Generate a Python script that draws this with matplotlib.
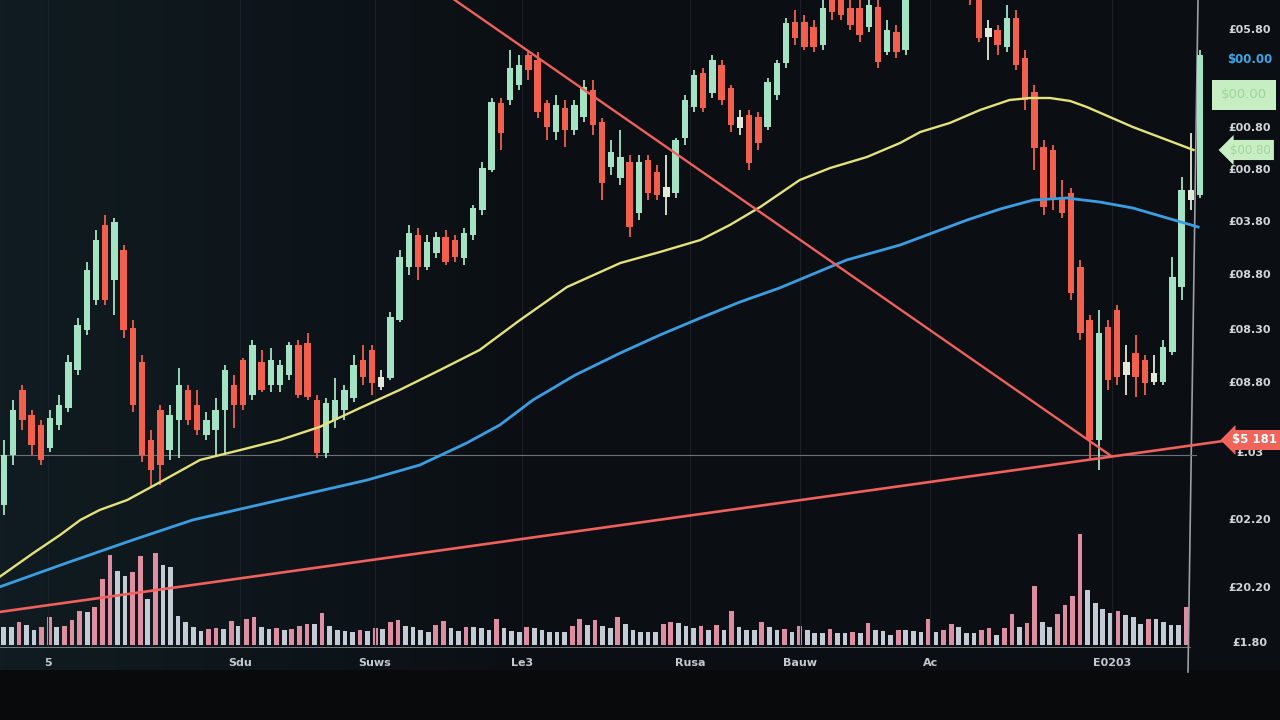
import numpy as np
import matplotlib
matplotlib.use('agg')
from matplotlib import pyplot as plt
from matplotlib.lines import Line2D

# candles (price units), one entry per session
opens = [59.5, 64.5, 71.0, 68.5, 67.5, 65.2, 67.5, 69.2, 73.0, 77.0,
         80.0, 87.5, 82.0, 85.0, 77.2, 73.8, 66.0, 69.0, 65.0, 68.0,
         71.0, 69.5, 66.5, 67.0, 69.0, 71.5, 74.0, 70.5, 73.8, 71.5,
         71.5, 72.5, 75.5, 75.7, 70.0, 64.7, 68.0, 69.0, 70.2, 74.0,
         75.0, 71.3, 72.2, 78.0, 83.3, 86.5, 83.3, 84.7, 86.3, 86.0,
         84.2, 86.5, 89.0, 93.0, 99.7, 100.0, 101.5, 104.5, 104.0, 99.7,
         96.8, 99.2, 97.0, 98.3, 101.0, 97.8, 93.3, 92.2, 93.8, 88.7,
         94.0, 92.8, 90.3, 90.7, 96.2, 99.3, 102.7, 100.7, 103.5, 101.2,
         97.2, 98.5, 98.3, 97.3, 100.5, 103.7, 107.8, 107.8, 107.3, 105.5,
         110.5, 110.0, 109.2, 109.2, 107.3, 109.3, 104.8, 106.8, 105.0, 111.0,
         114.0, 112.5, 115.5, 113.5, 116.0, 113.0, 111.0, 107.2, 107.0, 105.3,
         108.2, 104.2, 100.8, 95.3, 95.0, 90.3, 90.7, 83.3, 78.0, 66.0,
         77.3, 79.0, 72.5, 74.7, 74.0, 71.8, 71.8, 74.8, 81.3, 90.0,
         90.5]
closes = [64.5, 69.0, 68.0, 65.5, 64.0, 68.2, 69.5, 73.8, 77.5, 83.0,
          86.0, 80.0, 87.8, 77.0, 69.5, 64.5, 63.0, 63.5, 68.5, 71.5,
          68.0, 67.0, 68.0, 69.0, 73.0, 69.5, 69.5, 75.5, 71.0, 74.0,
          73.5, 75.5, 70.5, 70.3, 64.7, 69.7, 70.0, 71.0, 73.5, 72.3,
          71.7, 72.3, 78.3, 84.3, 86.7, 83.3, 85.8, 86.3, 83.8, 84.3,
          86.7, 89.2, 93.2, 99.8, 96.7, 103.2, 103.5, 103.0, 98.8, 97.3,
          99.5, 97.0, 99.5, 101.3, 97.5, 91.7, 94.8, 94.3, 87.3, 93.8,
          90.7, 90.5, 91.3, 96.0, 100.0, 102.5, 99.2, 104.0, 100.0, 97.5,
          98.3, 93.7, 95.7, 101.8, 103.7, 107.7, 106.2, 105.3, 105.3, 109.2,
          108.8, 108.5, 107.5, 106.5, 109.5, 103.8, 107.0, 104.8, 111.0, 114.0,
          112.0, 115.5, 113.5, 116.0, 113.0, 110.5, 106.2, 106.3, 105.5, 108.2,
          103.5, 100.0, 95.2, 89.3, 90.0, 88.7, 80.7, 76.7, 66.0, 76.7,
          72.0, 72.3, 73.8, 72.3, 71.7, 72.7, 75.3, 82.3, 91.0, 91.0,
          104.5]
highs = [66.0, 70.0, 71.5, 69.0, 68.0, 69.0, 70.5, 74.5, 78.2, 83.8,
         87.0, 88.5, 88.2, 85.5, 78.0, 74.5, 67.0, 69.5, 69.5, 73.2,
         71.5, 71.0, 68.8, 70.2, 73.5, 72.5, 74.2, 76.0, 75.0, 75.2,
         74.0, 75.8, 76.0, 76.7, 70.5, 70.2, 72.2, 71.5, 74.5, 75.5,
         75.5, 73.0, 78.8, 85.0, 87.5, 87.2, 86.5, 86.8, 87.0, 86.5,
         87.2, 89.5, 93.8, 100.2, 100.2, 105.0, 104.5, 105.0, 104.8, 100.0,
         100.5, 100.0, 100.0, 102.0, 102.0, 98.2, 96.0, 97.0, 94.5, 94.5,
         94.5, 93.5, 94.5, 96.2, 100.5, 103.0, 103.2, 104.5, 104.0, 101.5,
         99.0, 99.0, 98.8, 102.2, 104.0, 108.2, 109.0, 108.5, 108.0, 110.0,
         111.5, 111.0, 110.0, 110.0, 110.0, 110.0, 108.0, 107.5, 112.0, 115.0,
         115.5, 116.0, 116.5, 117.0, 117.0, 114.0, 112.0, 108.0, 107.5, 109.5,
         109.0, 105.0, 101.5, 96.0, 95.5, 92.0, 91.2, 84.0, 78.5, 79.0,
         78.0, 79.5, 75.5, 76.5, 74.5, 74.5, 76.0, 84.3, 92.3, 96.7,
         105.0]
lows = [58.5, 63.5, 67.0, 64.5, 63.5, 64.8, 67.0, 68.8, 72.5, 76.5,
        79.5, 79.5, 78.5, 76.2, 68.8, 63.8, 61.2, 61.5, 64.0, 64.2,
        67.5, 66.5, 66.0, 64.5, 64.5, 67.2, 69.0, 70.0, 70.8, 70.8,
        70.8, 72.0, 70.2, 70.0, 64.2, 64.2, 67.2, 68.0, 69.8, 71.5,
        70.5, 71.0, 72.0, 77.8, 82.5, 82.0, 83.0, 84.2, 83.5, 83.8,
        83.5, 86.0, 88.5, 92.8, 95.0, 99.5, 101.0, 102.0, 98.2, 96.0,
        96.0, 95.3, 96.5, 97.8, 96.5, 90.0, 92.5, 91.5, 86.3, 88.0,
        90.0, 90.0, 88.5, 90.2, 95.5, 98.8, 98.8, 100.2, 99.5, 96.8,
        96.5, 93.0, 95.0, 97.0, 100.0, 103.2, 105.5, 105.0, 104.8, 105.0,
        108.0, 108.0, 107.0, 105.8, 106.8, 103.2, 104.5, 104.2, 104.5, 110.5,
        111.0, 112.0, 112.5, 113.0, 112.0, 109.5, 105.8, 104.0, 104.5, 104.8,
        103.0, 99.0, 93.0, 88.5, 89.0, 88.2, 80.0, 76.0, 64.0, 63.0,
        71.0, 71.5, 70.5, 70.3, 70.5, 71.5, 71.5, 74.5, 80.0, 89.0,
        90.2]

# moving averages (session index, price)
ma_slow_x = [-0.5, 3.2, 6.1, 8.3, 10.4, 13.4, 17.0, 21.3, 25.7, 30.0, 34.3, 38.7,
             43.0, 47.4, 51.7, 56.1, 61.2, 67.0, 71.3, 75.7, 78.9, 82.2, 86.5, 89.8,
             93.8, 97.4, 99.6, 102.8, 106.1, 109.3, 111.5, 113.7, 115.9, 117.7, 120.2,
             122.7, 129.3]
ma_slow_y = [52.3, 54.7, 56.5, 58.0, 59.0, 60.0, 61.8, 64.0, 65.0, 66.0, 67.3, 69.2,
             71.0, 73.0, 75.0, 78.0, 81.3, 83.7, 84.8, 86.0, 87.5, 89.3, 92.0, 93.2,
             94.3, 95.7, 96.8, 97.7, 99.0, 100.0, 100.2, 100.2, 99.9, 99.3, 98.3,
             97.3, 95.0]
ma_long_x = [-0.5, 6.8, 14.0, 20.5, 30.0, 39.5, 45.2, 50.3, 53.9, 57.5, 62.1, 67.0,
             71.3, 75.7, 80.0, 84.3, 91.6, 97.4, 104.7, 108.3, 111.9, 115.5, 119.1,
             122.7, 129.8]
ma_long_y = [51.3, 53.7, 56.0, 58.0, 60.0, 62.0, 63.5, 65.7, 67.5, 70.0, 72.5, 74.7,
             76.5, 78.2, 79.8, 81.2, 84.0, 85.5, 88.0, 89.1, 90.0, 90.2, 89.8,
             89.2, 87.3]

# trend lines (start, end) in (session, price)
trend_down = [(49.0, 110.0), (120.2, 64.5)]
trend_up = [(-0.5, 48.8), (133.3, 66.0)]
support = 64.5

# volume bars (thousands)
volume = [18, 18, 23, 20, 15, 18, 28, 18, 19, 25, 34, 33, 38, 66, 90, 74, 69, 73, 89, 46,
          92, 80, 78, 29, 23, 18, 14, 16, 17, 16, 24, 19, 26, 28, 18, 16, 17,
          15, 16, 19, 21, 21, 32, 19, 15, 14, 13, 15, 14, 17, 16, 23, 25, 19, 18, 15, 13,
          20, 24, 17, 14, 18, 18, 17, 15, 26, 17, 14, 13, 18, 17, 15, 13, 13, 13, 19, 26,
          20, 25, 19, 17, 28,
          21, 15, 13, 13, 13, 21, 23, 22, 19, 17, 19, 15, 20, 15, 34, 18, 15, 15, 23, 18,
          15, 16, 13, 19, 15, 12, 12, 16, 12, 12, 13, 12, 22, 15, 14, 10, 15, 15, 14, 13,
          26, 13, 15, 21, 18, 12, 12, 15, 17, 10, 17, 31, 18, 22, 59, 23, 18, 31, 40, 49,
          111, 55, 42, 36, 32, 34, 30, 28, 21, 26, 26, 23, 20, 20, 38]

x_tick_pos = [4.8, 25.7, 40.3, 56.3, 74.6, 86.5, 100.7, 120.4]
x_tick_lab = ['5', 'Sdu', 'Suws', 'Le3', 'Rusa', 'Bauw', 'Ac', 'E0203']

# right-hand price scale labels (price, text)
r_prices = [107.0, 97.2, 93.0, 87.8, 82.5, 77.0, 71.7, 64.7, 58.0, 51.2, 45.7]
r_labels = ['£05.80', '£00.80', '£00.80', '£03.80', '£08.80', '£08.30', '£08.80',
            '£.03', '£02.20', '£20.20', '£1.80']

W, H = 1280, 720
fig = plt.figure(figsize=(12.8, 7.2), dpi=100)
fig.patch.set_facecolor('#0a0c10')

# background gradient
bg = fig.add_axes([0, 0, 1, 1], zorder=-10)
gx = np.linspace(0, 1, 256)
left = np.array([0x10, 0x1c, 0x21]) / 255
mid = np.array([0x0b, 0x0e, 0x13]) / 255
w = np.clip(gx / 0.45, 0, 1)[:, None]
row = left * (1 - w) + mid * w
img = np.repeat(row[None, :, :], 100, axis=0)
img[int(100 * 675 / 720):, :, :] = np.array([0x09, 0x0a, 0x0c]) / 255
bg.imshow(img, aspect='auto', extent=[0, 1, 0, 1], origin='upper')
bg.axis('off')

ybot = 110 - 648 / 10.0
x0 = -0.43
x1 = x0 + W / 9.2

# volume
vax = fig.add_axes([0, (H - 645) / H, 1190 / W, 120 / H], zorder=1)
vax.set_facecolor('none')
vi = np.arange(len(volume))
vcol = ['#f29aae' if i > 0 and volume[i] > volume[i - 1] else '#d4dde6' for i in vi]
vax.bar(vi, volume, width=0.62, color=vcol, alpha=0.92)
vax.set_xlim(-0.5, len(volume) - 0.5)
vax.set_ylim(0, 120)
vax.axis('off')

ax = fig.add_axes([0, (H - 648) / H, 1, 648 / H], zorder=2)
ax.set_facecolor('none')
ax.set_xlim(x0, x1)
ax.set_ylim(ybot, 110)

o = np.array(opens); c = np.array(closes)
hi = np.array(highs); lo = np.array(lows)
xi = np.arange(len(o))
cols = []
for a, b in zip(o, c):
    if abs(b - a) < 1.4:
        cols.append('#e3e9d8')
    elif b > a:
        cols.append('#a4e2c4')
    else:
        cols.append('#f25f4c')
ax.vlines(xi, lo, hi, colors=cols, lw=1.3, zorder=3)
ax.bar(xi, np.abs(c - o), bottom=np.minimum(o, c), width=0.7, color=cols, zorder=4)

ax.plot(ma_slow_x, ma_slow_y, color='#e4e27a', lw=1.7, zorder=5)
ax.plot(ma_long_x, ma_long_y, color='#3a9ee2', lw=2.0, zorder=5)
ax.plot([p[0] for p in trend_down], [p[1] for p in trend_down], color='#f0605c', lw=1.7, zorder=5)
ax.plot([p[0] for p in trend_up], [p[1] for p in trend_up], color='#f0605c', lw=1.9, zorder=5)
ax.axhline(support, xmax=1196 / W, color='#6c7178', lw=0.8, zorder=2)
ax.axhline(ybot, xmax=1190 / W, color='#8a8f96', lw=1.2)

ax.set_xticks(x_tick_pos)
ax.set_xticklabels(x_tick_lab, color='#c6cace', fontsize=8, fontweight='bold')
ax.tick_params(axis='x', length=0, pad=7)
ax.set_yticks([])
ax.grid(axis='x', color='#1a2027', lw=0.8)
for s in ax.spines.values():
    s.set_visible(False)

# right price scale
fig.add_artist(Line2D([1198 / W, 1188 / W], [1, (H - 672) / H], color='#9aa0a6', lw=1.2))
xl = 1250 / W
for p, t in zip(r_prices, r_labels):
    yf = (H - (110 - p) * 10) / H
    fig.text(xl, yf, t, color='#d2d5d8', fontsize=8, fontweight='bold', ha='center', va='center')
fig.text(xl, (H - 60) / H, '$00.00', color='#3aa8ea', fontsize=8.5, fontweight='bold',
         ha='center', va='center')
fig.text(1244 / W, (H - 95) / H, '$00.00', color='#9fd39c', fontsize=9.5, ha='center', va='center',
         bbox=dict(boxstyle='square,pad=0.65', fc='#c6eec2', ec='none'))
fig.text(1250 / W, (H - 150) / H, '$00.80', color='#a3d3a0', fontsize=8.5, ha='center', va='center',
         bbox=dict(boxstyle='larrow,pad=0.3', fc='#c8efc4', ec='none'))
fig.text(1254 / W, (H - 440) / H, '$5 181', color='#ffffff', fontsize=8.5, fontweight='bold',
         ha='center', va='center', bbox=dict(boxstyle='larrow,pad=0.3', fc='#f0645a', ec='none'))

fig.savefig('out.png', dpi=100, facecolor=fig.get_facecolor())
